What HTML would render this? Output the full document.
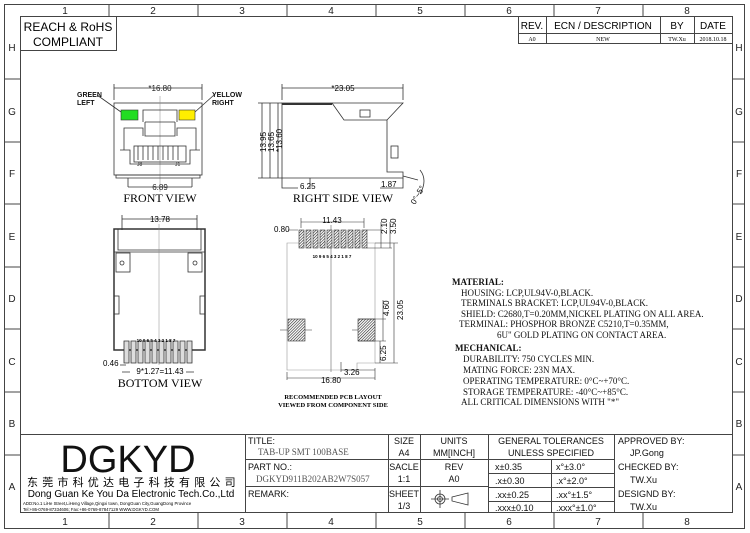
<!DOCTYPE html>
<html><head><meta charset="utf-8"><style>
html,body{margin:0;padding:0;background:#fff;}
svg{display:block;font-family:"Liberation Sans",sans-serif;}
.s{font-family:"Liberation Serif",serif;}
</style></head><body>
<svg width="750" height="533" viewBox="0 0 750 533" xmlns="http://www.w3.org/2000/svg">
<g fill="none" stroke="#444" stroke-width="1">
<rect x="4.5" y="4.5" width="740" height="524"/>
<rect x="20.5" y="16.5" width="712" height="496"/>
</g>
<g stroke="#444" stroke-width="1">
<line x1="109" y1="4" x2="109" y2="16"/><line x1="198" y1="4" x2="198" y2="16"/><line x1="287" y1="4" x2="287" y2="16"/><line x1="376" y1="4" x2="376" y2="16"/><line x1="465" y1="4" x2="465" y2="16"/><line x1="554" y1="4" x2="554" y2="16"/><line x1="643" y1="4" x2="643" y2="16"/>
<line x1="109" y1="512" x2="109" y2="528"/><line x1="198" y1="512" x2="198" y2="528"/><line x1="287" y1="512" x2="287" y2="528"/><line x1="376" y1="512" x2="376" y2="528"/><line x1="465" y1="512" x2="465" y2="528"/><line x1="554" y1="512" x2="554" y2="528"/><line x1="643" y1="512" x2="643" y2="528"/>
<line x1="4" y1="79" x2="20" y2="79"/><line x1="4" y1="142" x2="20" y2="142"/><line x1="4" y1="204" x2="20" y2="204"/><line x1="4" y1="267" x2="20" y2="267"/><line x1="4" y1="329" x2="20" y2="329"/><line x1="4" y1="392" x2="20" y2="392"/><line x1="4" y1="455" x2="20" y2="455"/>
<line x1="732" y1="79" x2="745" y2="79"/><line x1="732" y1="142" x2="745" y2="142"/><line x1="732" y1="204" x2="745" y2="204"/><line x1="732" y1="267" x2="745" y2="267"/><line x1="732" y1="329" x2="745" y2="329"/><line x1="732" y1="392" x2="745" y2="392"/><line x1="732" y1="455" x2="745" y2="455"/>
</g>
<g font-size="10" fill="#222" text-anchor="middle">
<text x="65" y="14">1</text><text x="153" y="14">2</text><text x="242" y="14">3</text><text x="331" y="14">4</text><text x="420" y="14">5</text><text x="509" y="14">6</text><text x="598" y="14">7</text><text x="687" y="14">8</text>
<text x="65" y="525">1</text><text x="153" y="525">2</text><text x="242" y="525">3</text><text x="331" y="525">4</text><text x="420" y="525">5</text><text x="509" y="525">6</text><text x="598" y="525">7</text><text x="687" y="525">8</text>
<text x="12" y="51">H</text><text x="12" y="115">G</text><text x="12" y="177">F</text><text x="12" y="240">E</text><text x="12" y="302">D</text><text x="12" y="365">C</text><text x="12" y="427">B</text><text x="12" y="490">A</text>
<text x="739" y="51">H</text><text x="739" y="115">G</text><text x="739" y="177">F</text><text x="739" y="240">E</text><text x="739" y="302">D</text><text x="739" y="365">C</text><text x="739" y="427">B</text><text x="739" y="490">A</text>
</g>
<rect x="20.5" y="16.5" width="96" height="34" fill="none" stroke="#444"/>
<text x="68" y="31" font-size="12" text-anchor="middle">REACH &amp; RoHS</text>
<text x="68" y="46" font-size="12" text-anchor="middle">COMPLIANT</text>
<g fill="none" stroke="#444"><rect x="518.5" y="16.5" width="214" height="27"/>
<line x1="518" y1="33.5" x2="732" y2="33.5"/><line x1="546.5" y1="16" x2="546.5" y2="44"/><line x1="660.5" y1="16" x2="660.5" y2="44"/><line x1="694.5" y1="16" x2="694.5" y2="44"/></g>
<g font-size="10" text-anchor="middle"><text x="532" y="29">REV.</text><text x="603" y="29">ECN / DESCRIPTION</text><text x="677" y="29">BY</text><text x="713" y="29">DATE</text></g>
<g font-size="6" text-anchor="middle" class="s"><text x="532" y="41">A0</text><text x="603" y="41">NEW</text><text x="677" y="41">TW.Xu</text><text x="713" y="41">2018.10.18</text></g>

<g fill="none" stroke="#333" stroke-width="0.8">
<rect x="114" y="103" width="88" height="72"/>
<line x1="160" y1="96" x2="160" y2="192" stroke="#888" stroke-width="0.5"/>
<path d="M114 100 V84 M202 100 V84 M114 88 H202"/>
<path d="M143 122 V110 H177 V122"/>
<path d="M145 122 H175 M145 122 V136 H175 V122"/>
<path d="M124 150 V128 H143 V136 M177 136 V128 H196 V150 M124 150 H130 V164 H190 V150 H196"/>
<path d="M120 150 H124 M196 150 H200"/>
<rect x="134" y="146" width="52" height="16"/>
<path d="M138 146 V160 M143 146 V160 M148 146 V160 M153 146 V160 M158 146 V160 M163 146 V160 M168 146 V160 M173 146 V160 M178 146 V160"/>
<path d="M116 175 H200 V178 H116Z"/>
<path d="M128 178 V187 M192 178 V187 M128 187 H192"/>
<path d="M97 95 L121 112 M214 95 L195 112"/>
</g>
<rect x="121" y="110" width="17" height="10" fill="#22dd22" stroke="#333" stroke-width="0.6"/>
<rect x="179" y="110" width="16" height="10" fill="#ffee00" stroke="#333" stroke-width="0.6"/>
<g font-size="7" font-weight="bold" fill="#111"><text x="77" y="97">GREEN</text><text x="77" y="105">LEFT</text><text x="212" y="97">YELLOW</text><text x="212" y="105">RIGHT</text></g>
<text x="160" y="91" font-size="8" text-anchor="middle" fill="#222">*16.80</text>
<text x="160" y="190" font-size="8" text-anchor="middle" fill="#222">6.89</text>
<text x="137" y="166" font-size="5" fill="#222">J8</text><text x="175" y="166" font-size="5" fill="#222">J1</text>
<text x="160" y="202" font-size="12" text-anchor="middle" class="s">FRONT VIEW</text>

<g fill="none" stroke="#333" stroke-width="0.8">
<path d="M282 103 H403 L387 120 V172 H403 V178 H282 Z"/>
<line x1="282" y1="104" x2="332" y2="104" stroke-width="2"/>
<path d="M332 103 L344 120 H387"/>
<rect x="360" y="110" width="10" height="7"/>
<rect x="391" y="146" width="7" height="12"/>
<path d="M282 100 V84 M403 100 V84 M282 88 H403"/>
<path d="M262 103 V178 M270 103 V178 M278 103 V178 M258 103 H282 M258 178 H282"/>
<path d="M282 178 V188 H298 M310 178 V188 M403 178 V188 H380"/>
<path d="M403 176 L418 180 M420 170 Q428 180 420 194"/>
</g>
<text x="343" y="91" font-size="8" text-anchor="middle">*23.05</text>
<text transform="translate(266,152) rotate(-90)" font-size="8">13.95</text>
<text transform="translate(274,152) rotate(-90)" font-size="8">13.65</text>
<text transform="translate(282,152) rotate(-90)" font-size="8">*13.60</text>
<text x="300" y="189" font-size="8">6.25</text>
<text x="381" y="187" font-size="8">1.87</text>
<text transform="translate(415,205) rotate(-60)" font-size="8">0°~5°</text>
<text x="343" y="202" font-size="12" text-anchor="middle" class="s">RIGHT SIDE VIEW</text>

<g fill="none" stroke="#333" stroke-width="0.8">
<path d="M114 229 H205 V350 H114 Z" stroke-width="1.5"/>
<path d="M118 229 V250 H201 V229 M114 252 H205"/>
<rect x="116" y="253" width="14" height="19"/><rect x="188" y="253" width="14" height="19"/>
<circle cx="122" cy="263" r="2"/><circle cx="195" cy="263" r="2"/>
<rect x="114" y="296" width="5" height="18"/><rect x="200" y="296" width="5" height="18"/>
<line x1="159" y1="224" x2="159" y2="365" stroke="#888" stroke-width="0.5"/>
<path d="M122 230 V215 M197 230 V215 M122 219 H197"/>
<path d="M124 341 h5 v22 h-5z M131 341 h5 v22 h-5z M138 341 h5 v22 h-5z M145 341 h5 v22 h-5z M152 341 h5 v22 h-5z M159 341 h5 v22 h-5z M166 341 h5 v22 h-5z M173 341 h5 v22 h-5z M180 341 h5 v22 h-5z M187 341 h5 v22 h-5z" fill="#ddd"/>
<path d="M120 365 H126 M122 372 H130 M186 372 H194"/>
</g>
<text x="160" y="222" font-size="8" text-anchor="middle">13.78</text>
<text x="103" y="366" font-size="8">0.46</text>
<text x="160" y="374" font-size="8" text-anchor="middle">9*1.27=11.43</text>
<text x="160" y="387" font-size="12" text-anchor="middle" class="s">BOTTOM VIEW</text>
<text x="156" y="342" font-size="4.5" text-anchor="middle" font-weight="bold">10 9 6 5 4 3 2 1 8 7</text>

<defs><pattern id="h" width="2" height="2" patternUnits="userSpaceOnUse" patternTransform="rotate(45)"><rect width="2" height="2" fill="#fff"/><line x1="0" y1="0" x2="0" y2="2" stroke="#222" stroke-width="1.2"/></pattern></defs>
<g fill="none" stroke="#999" stroke-width="0.6">
<path d="M287 243 H375 V363 H357 V370 H287 Z"/>
<line x1="331" y1="225" x2="331" y2="372" stroke="#666"/>
</g>
<g stroke="#333" stroke-width="0.6" fill="url(#h)">
<rect x="299" y="230" width="5" height="18"/><rect x="306" y="230" width="5" height="18"/><rect x="313" y="230" width="5" height="18"/><rect x="320" y="230" width="5" height="18"/><rect x="327" y="230" width="5" height="18"/><rect x="334" y="230" width="5" height="18"/><rect x="341" y="230" width="5" height="18"/><rect x="348" y="230" width="5" height="18"/><rect x="355" y="230" width="5" height="18"/><rect x="362" y="230" width="5" height="18"/>
<rect x="288" y="319" width="17" height="22"/><rect x="358" y="319" width="17" height="22"/>
</g>
<g fill="none" stroke="#333" stroke-width="0.6">
<path d="M301 228 V218 M364 228 V218 M301 222 H364"/>
<path d="M367 230 H383 M367 248 H392 M381 222 V248 M390 222 V248 M288 230 H298"/>
<path d="M375 243 H398 M375 363 H398 M394 243 V363 M358 319 H386 M358 341 H386 M383 300 V341 M380 341 V363"/>
<path d="M287 372 V380 M375 368 V380 M287 378 H375 M341 362 V372 M341 370 H375"/>
<path d="M280 330 H288 M305 330 H312 M352 330 H358"/>
</g>
<text x="332" y="223" font-size="8" text-anchor="middle">11.43</text>
<text x="274" y="232" font-size="8">0.80</text>
<text transform="translate(387,234) rotate(-90)" font-size="8">2.10</text>
<text transform="translate(396,234) rotate(-90)" font-size="8">3.50</text>
<text transform="translate(403,320) rotate(-90)" font-size="8">23.05</text>
<text transform="translate(389,316) rotate(-90)" font-size="8">4.60</text>
<text transform="translate(386,361) rotate(-90)" font-size="8">6.25</text>
<text x="344" y="375" font-size="8">3.26</text>
<text x="331" y="383" font-size="8" text-anchor="middle">16.80</text>
<text x="332" y="258" font-size="4.5" text-anchor="middle" font-weight="bold">10 9 6 5 4 3 2 1 8 7</text>
<text x="333" y="399" font-size="6.5" text-anchor="middle" class="s" font-weight="bold">RECOMMENDED PCB LAYOUT</text>
<text x="333" y="407" font-size="6.5" text-anchor="middle" class="s" font-weight="bold">VIEWED FROM COMPONENT SIDE</text>

<g class="s" font-size="9" fill="#111">
<text x="452" y="285" font-weight="bold">MATERIAL:</text>
<text x="461" y="296">HOUSING: LCP,UL94V-0,BLACK.</text>
<text x="461" y="306">TERMINALS BRACKET: LCP,UL94V-0,BLACK.</text>
<text x="461" y="317">SHIELD: C2680,T=0.20MM,NICKEL PLATING ON ALL AREA.</text>
<text x="459" y="327">TERMINAL: PHOSPHOR BRONZE C5210,T=0.35MM,</text>
<text x="497" y="338">6U" GOLD PLATING ON CONTACT AREA.</text>
<text x="455" y="351" font-weight="bold">MECHANICAL:</text>
<text x="463" y="362">DURABILITY: 750 CYCLES MIN.</text>
<text x="463" y="373">MATING FORCE: 23N MAX.</text>
<text x="463" y="384">OPERATING TEMPERATURE: 0°C~+70°C.</text>
<text x="463" y="395">STORAGE TEMPERATURE: -40°C~+85°C.</text>
<text x="461" y="405">ALL CRITICAL DIMENSIONS WITH "*"</text>
</g>

<g fill="none" stroke="#444" stroke-width="1">
<line x1="20" y1="434.5" x2="732" y2="434.5"/>
<line x1="245.5" y1="434" x2="245.5" y2="512"/>
<line x1="388.5" y1="434" x2="388.5" y2="512"/>
<line x1="420.5" y1="434" x2="420.5" y2="512"/>
<line x1="488.5" y1="434" x2="488.5" y2="512"/>
<line x1="551.5" y1="459" x2="551.5" y2="512"/>
<line x1="614.5" y1="434" x2="614.5" y2="512"/>
<line x1="245" y1="459.5" x2="614" y2="459.5"/>
<line x1="245" y1="486.5" x2="488" y2="486.5"/>
<line x1="488" y1="473.5" x2="614" y2="473.5"/>
<line x1="488" y1="487.5" x2="614" y2="487.5"/>
<line x1="488" y1="501.5" x2="614" y2="501.5"/>
</g>
<text x="128" y="472" font-size="38" text-anchor="middle" fill="#111">DGKYD</text>
<text x="27" y="486" font-size="11" font-family="'Liberation Sans','Noto Sans CJK SC',sans-serif" letter-spacing="4.2">东莞市科优达电子科技有限公司</text>
<text x="131" y="497" font-size="10" text-anchor="middle">Dong Guan Ke You Da Electronic Tech.Co.,Ltd</text>
<text x="23" y="505" font-size="4.3">ADD:No.1 LiHe Street,LiHeng Village,Qingxi town, DongGuan City,GuangDong Province</text>
<text x="23" y="511" font-size="4.3">Tel:+86-0769-87334606; Fax:+86-0769-87847129  WWW.DGKYD.COM</text>
<g font-size="9" fill="#111">
<text x="248" y="444">TITLE:</text>
<text x="258" y="455" class="s" fill="#555">TAB-UP SMT 100BASE</text>
<text x="248" y="470">PART NO.:</text>
<text x="256" y="482" class="s" fill="#555">DGKYD911B202AB2W7S057</text>
<text x="248" y="497">REMARK:</text>
<g text-anchor="middle">
<text x="404" y="444">SIZE</text><text x="404" y="456">A4</text>
<text x="454" y="444">UNITS</text><text x="454" y="456">MM[INCH]</text>
<text x="404" y="470">SACLE</text><text x="404" y="482">1:1</text>
<text x="454" y="470">REV</text><text x="454" y="482">A0</text>
<text x="404" y="497">SHEET</text><text x="404" y="509">1/3</text>
<text x="551" y="444">GENERAL TOLERANCES</text><text x="551" y="456">UNLESS SPECIFIED</text>
</g>
<text x="495" y="470">x±0.35</text><text x="556" y="470">x°±3.0°</text>
<text x="495" y="484">.x±0.30</text><text x="556" y="484">.x°±2.0°</text>
<text x="495" y="498">.xx±0.25</text><text x="556" y="498">.xx°±1.5°</text>
<text x="495" y="511">.xxx±0.10</text><text x="556" y="511">.xxx°±1.0°</text>
<text x="618" y="444">APPROVED BY:</text><text x="630" y="456">JP.Gong</text>
<text x="618" y="470">CHECKED BY:</text><text x="630" y="483">TW.Xu</text>
<text x="618" y="497">DESIGND BY:</text><text x="630" y="510">TW.Xu</text>
</g>
<g fill="none" stroke="#333" stroke-width="0.8">
<circle cx="440" cy="499" r="5"/><circle cx="440" cy="499" r="2.5"/>
<path d="M431 499 H449 M440 490 V508 M452 497 L468 493 V505 L452 501 Z M452 497 V501"/>
</g>
</svg>
</body></html>
